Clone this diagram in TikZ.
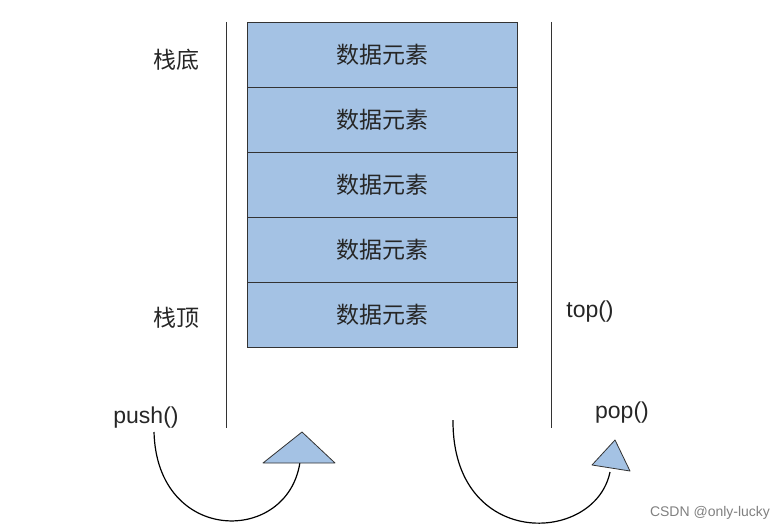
\documentclass[tikz,border=0pt]{standalone}
\usepackage{fontspec}
\setmainfont{Liberation Sans}
\newfontfamily\cjk{Noto Sans CJK SC}
\definecolor{cellblue}{RGB}{164,194,228}
\begin{document}
\begin{tikzpicture}[x=1pt,y=-1pt,
  cell/.style={draw=black!80,fill=cellblue,line width=0.8pt},
  wall/.style={draw=black!80,line width=0.8pt},
  lbl/.style={font=\cjk\fontsize{23}{23}\selectfont,text=black!85},
  fn/.style={font=\fontsize{23}{23}\selectfont,text=black!85},
  arc/.style={draw=black,line width=1.2pt},
  tip/.style={draw=black!80,fill=cellblue,line width=0.8pt,line join=round}]
\useasboundingbox (0,0) rectangle (781,532);
\coordinate (lw1) at (226,22); \coordinate (lw2) at (226,428);
\coordinate (rw1) at (551,22); \coordinate (rw2) at (551,428);
\draw[wall] (lw1) -- (lw2);
\draw[wall] (rw1) -- (rw2);
\foreach \i in {0,...,4}{
  \node[cell,minimum width=270pt,minimum height=65pt,inner sep=0pt,anchor=north west] (c\i) at (247,22+65*\i) {};
  \node[lbl] (t\i) at (c\i.center) {数据元素};
}
\node[lbl] (bottom) at (176,60) {栈底};
\node[lbl] (topl) at (176,318) {栈顶};
\node[fn] (top) at (590,312) {top()};
\node[fn] (push) at (146,418) {push()};
\node[fn] (pop) at (622,413) {pop()};
\node[font=\fontsize{14}{14}\selectfont,text=black!50] (wm) at (710,513) {CSDN @only-lucky};
\coordinate (ps) at (154,432); \coordinate (pe) at (300,462);
\draw[arc] (ps) .. controls (157,545) and (288,545) .. (pe);
\draw[tip] (263,463) -- (335,463) -- (302,432) -- cycle;
\coordinate (os) at (453,420); \coordinate (oe) at (610,472);
\draw[arc] (os) .. controls (452,550) and (595,545) .. (oe);
\draw[tip] (592,465) -- (630,471) -- (615,440) -- cycle;
\end{tikzpicture}
\end{document}
